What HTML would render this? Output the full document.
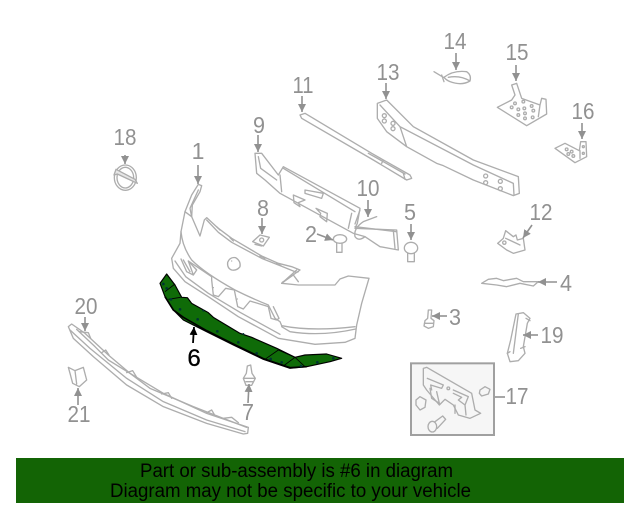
<!DOCTYPE html>
<html><head><meta charset="utf-8">
<style>
html,body{margin:0;padding:0;background:#fff;width:640px;height:512px;overflow:hidden}
svg{display:block}
text{font-family:"Liberation Sans",sans-serif}
.l{font-size:23px;fill:#919191;text-anchor:middle}
.p{fill:none;stroke:#adadad;stroke-width:4;stroke-linejoin:round;stroke-linecap:round}
.f{fill:#fff;stroke:#adadad;stroke-width:4;stroke-linejoin:round}
.a{stroke:#919191;stroke-width:1.6;fill:none;marker-end:url(#m)}
</style></head><body>
<svg width="640" height="512" viewBox="0 0 640 512" xmlns="http://www.w3.org/2000/svg">
<defs>
<marker id="m" markerUnits="userSpaceOnUse" markerWidth="9" markerHeight="8" refX="8" refY="4" orient="auto"><path d="M0 0L8 4L0 8z" fill="#919191"/></marker>
<marker id="k" markerUnits="userSpaceOnUse" markerWidth="9" markerHeight="8" refX="8" refY="4" orient="auto"><path d="M0 0L8 4L0 8z" fill="#000"/></marker>
</defs>

<!-- bumper -->
<g transform="translate(165,175) scale(.33333)">
<path class="p" d="M100 28L110 32L105 50L82 90L80 125L105 183L118 135L125 128L160 160L200 190L290 243L340 265L380 275L405 285L350 325L400 330L510 330L525 312L550 303L612 310L590 385L575 450L570 490L540 502L450 508L340 490L220 425L130 365L60 320L25 280L20 250L45 205L48 170L60 110L80 60z"/>
<path class="p" d="M48 170Q52 215 80 255Q120 295 210 345Q260 370 310 390L330 430L345 440L350 452Q440 470 570 455"/>
<path class="p" d="M350 455L375 470Q470 485 572 462M30 258L62 305L130 355L225 412L345 478M60 110L80 125M100 45L75 100L80 125"/>
<path class="p" d="M48 252L65 290L85 300L70 258L95 285L85 300M55 255L75 290"/>
<path class="p" d="M70 258L140 305L140 315L145 360L160 365L182 340L208 345L218 395L235 402L255 378L310 395L318 430L335 435L342 430L325 395"/>
<path class="p" d="M125 135L160 172L200 202L290 250L345 272L395 292L400 290M352 322L385 300L400 320M350 325L395 285M155 155L165 165M195 188L205 198M285 243L300 250M335 265L348 272"/>
<path class="p" d="M188 262Q195 245 212 248Q228 258 225 275Q215 288 200 285Q186 280 188 262z"/>
<circle cx="200" cy="258" r="2" fill="#aaa"/><circle cx="145" cy="338" r="2" fill="#aaa"/><circle cx="217" cy="372" r="2" fill="#aaa"/>
<!-- 8 -->
<path class="f" d="M263 200L285 180L313 187L295 213z"/>
<circle class="p" cx="290" cy="195" r="6"/>
<path class="p" d="M270 208L290 213"/>
<!-- 2 -->
<ellipse class="f" cx="525" cy="192" rx="20" ry="13"/>
<path class="p" d="M515 204V232H531V204"/>
</g>

<!-- green part -->
<g transform="translate(150,260) scale(.33333)">
<path fill="#0f6b08" stroke="#000" stroke-width="3.5" stroke-linejoin="round" d="M30 70L50 42L75 75L95 112L112 113L125 130L175 158L190 172L270 220L305 232L380 265L435 292L465 285L530 282L575 295L540 305L470 320L420 325L340 298L250 255L170 215L100 180L70 150L45 110z"/>
<path fill="none" stroke="#000" stroke-width="5" stroke-linejoin="round" d="M45 110L70 150L100 172L170 212L250 252L340 296L420 323L470 320"/>
<path fill="none" stroke="#000" stroke-width="2.5" d="M45 95L75 72M55 118L92 112M345 298L385 270L435 292L400 318M435 292L465 320"/>
<g fill="#033"><circle cx="40" cy="72" r="4"/><circle cx="50" cy="85" r="4"/><circle cx="63" cy="118" r="4"/><circle cx="90" cy="148" r="4"/><circle cx="143" cy="178" r="4"/><circle cx="202" cy="214" r="4"/><circle cx="265" cy="247" r="4"/><circle cx="320" cy="280" r="4"/><circle cx="362" cy="297" r="4"/><circle cx="395" cy="307" r="4"/><circle cx="453" cy="318" r="4"/><circle cx="502" cy="307" r="4"/><circle cx="550" cy="295" r="4"/><circle cx="160" cy="152" r="3"/><circle cx="280" cy="222" r="3"/></g>
</g>

<!-- strip 20, 21, 7 -->
<g transform="translate(60,310) scale(.33333)">
<path class="p" d="M25 50L35 42L75 70L145 135L210 190L310 250L440 310L565 352L563 370L550 372L440 340L310 290L200 225L100 140L40 85z"/>
<path class="p" d="M30 60L90 115L200 205L310 275L440 330L555 365M50 58L105 110L145 150L210 190L270 235L400 290L490 325L560 352M60 65L85 68L92 85M125 128L137 120L147 135M200 188L218 182L232 205M305 252L325 248L335 265M440 308L455 300L465 317M490 325L515 322L535 338"/>
<path class="p" d="M25 172L45 182L70 172L80 210L58 230L38 220L30 190zM45 182L50 222"/>
<path class="p" d="M562 168L572 165L576 190L586 205L575 226H558L550 205L559 190zM552 205H584M558 215H578"/>
</g>

<!-- emblem 18 -->
<g transform="translate(60,130) scale(.33333)">
<ellipse class="p" cx="196" cy="143" rx="33" ry="38"/>
<ellipse class="p" cx="196" cy="143" rx="25" ry="31"/>
<path class="f" d="M168 118L225 148L232 160L172 132L162 135z" style="fill:#e6e6e6"/>
</g>

<!-- upper parts -->
<g transform="translate(240,20) scale(.33333)">
<path class="p" d="M45 400L65 400L115 465L130 440L360 565L352 610L345 625L470 630L475 690L420 680L375 650L340 640L120 520L75 480L50 460z"/>
<path class="p" d="M55 410L62 445L110 480M120 465L125 515M130 445L345 575M335 580L325 625M360 570L345 612"/>
<path class="p" d="M195 510L250 520L245 535L195 520zM160 525L195 540L175 548L180 560L162 548zM228 565L262 580L260 605L240 590L242 580z"/>
<path class="p" d="M410 590L370 605Q340 625 345 650Q355 665 375 650M345 620L470 635M460 632L465 685"/>
<path class="p" d="M180 285L195 280L395 400L510 465L515 475L500 480L400 420L185 295zM385 400L430 425L495 462M430 420L425 430M490 460L495 478"/>
<path class="p" d="M412 250L440 240L520 320L700 420L835 470L838 520L820 527L700 480L610 437L590 430L500 380L440 335L412 295zM420 255L480 320L700 435L820 490L822 525M480 320L500 380"/>
<circle class="p" cx="433" cy="287" r="6"/><circle class="p" cx="433" cy="303" r="6"/><circle class="p" cx="459" cy="310" r="6"/><circle class="p" cx="459" cy="326" r="6"/><circle class="p" cx="737" cy="468" r="6"/><circle class="p" cx="737" cy="488" r="6"/><circle class="p" cx="781" cy="484" r="6"/><circle class="p" cx="781" cy="506" r="6"/>
<!-- 14 -->
<path class="p" d="M582 155L610 172M605 165L612 185M612 172Q640 150 680 155Q695 165 690 183Q665 198 630 185Q618 180 612 172M625 172Q660 165 690 183"/>
<!-- 15 -->
<path class="p" d="M772 262L815 240L825 225L815 195L830 190L845 235L900 255L905 235L918 238L920 282L860 317zM900 255L895 290"/>
<g class="p"><circle cx="825" cy="250" r="4"/><circle cx="850" cy="245" r="4"/><circle cx="835" cy="268" r="4"/><circle cx="853" cy="265" r="4"/><circle cx="875" cy="258" r="4"/><circle cx="815" cy="262" r="4"/><circle cx="855" cy="280" r="4"/><circle cx="880" cy="272" r="4"/><circle cx="835" cy="285" r="4"/><circle cx="855" cy="295" r="4"/><circle cx="878" cy="292" r="4"/></g>
<!-- 16 -->
<path class="p" d="M945 385L975 370L1018 392L1022 365H1038L1040 410L1005 428zM1020 392L1020 415"/>
<g class="p"><circle cx="980" cy="388" r="4"/><circle cx="995" cy="395" r="4"/><circle cx="985" cy="402" r="4"/><circle cx="1000" cy="408" r="4"/><circle cx="1030" cy="380" r="3"/><circle cx="1030" cy="400" r="3"/></g>
<!-- 5 -->
<ellipse class="f" cx="513" cy="684" rx="20" ry="17"/>
<path class="p" d="M503 699V725H523V699"/>
<!-- 12 -->
<path class="p" d="M773 670L790 655L797 632L820 650L828 645L832 660L850 655L855 690L820 700L800 690zM797 655L840 675"/>
<circle class="p" cx="793" cy="668" r="5"/>
<!-- 4 -->
<path class="p" d="M725 790L745 778L770 775L790 782L830 775L850 785L895 785L880 798L840 790L800 800L770 795z"/>
</g>

<!-- lower right parts -->
<g transform="translate(390,290) scale(.33333)">
<rect x="63" y="220" width="249" height="215" fill="#f6f6f6" stroke="#a0a0a0" stroke-width="6"/>
<path class="p" d="M115 60L125 60L123 85L132 92L130 110L115 115L102 108L105 92L113 85zM103 100H130"/>
<path class="p" d="M378 72L400 68L420 85L412 100L400 170L405 190L385 212L360 215L352 190L362 150z"/>
<path class="p" d="M385 72L370 190M408 85L420 92M352 190L360 185M392 175L405 170"/>
<path class="p" d="M100 235L110 232L245 310L255 360L272 370L240 385L205 375L190 345L165 328L148 345L110 300L100 285z"/>
<path class="p" d="M112 265L160 285L155 295L122 285L125 300M190 300L235 320L225 345L205 330L215 322L190 310M120 295L125 325L148 340L140 305M195 345V370M225 345L228 375"/>
<circle class="p" cx="175" cy="295" r="4"/>
<path class="p" d="M270 300L285 290L300 298L295 312L275 318L268 310z"/>
<path class="p" d="M78 330L90 320L108 330L105 352L90 360L78 345z"/>
<ellipse class="p" cx="127" cy="410" rx="13" ry="16"/>
<path class="p" d="M135 395L158 378L167 388L142 415"/>
</g>

<!-- arrows -->
<path class="a" d="M198 165L198 184"/>
<path class="a" d="M125 155L125 164"/>
<path class="a" d="M262 218L262 234"/>
<path class="a" d="M317 234L333 240"/>
<path class="a" d="M248 403L249 384"/>
<path class="a" d="M85 317L85 331"/>
<path class="a" d="M78 405L78 388"/>
<path class="a" d="M258 135L258 152"/>
<path class="a" d="M368 200L368 217"/>
<path class="a" d="M302 96L302 112"/>
<path class="a" d="M386 83L386 99"/>
<path class="a" d="M456 53L456 70"/>
<path class="a" d="M516 65L516 81"/>
<path class="a" d="M582 123L582 139"/>
<path class="a" d="M532 225L523 238"/>
<path class="a" d="M411 224L411 240"/>
<path class="a" d="M557 282L538 282"/>
<path class="a" d="M447 316L432 316"/>
<path class="a" d="M538 335L523 335"/>
<path d="M505 397H495" stroke="#919191" stroke-width="1.6"/>
<path d="M193 343L194 327" stroke="#000" stroke-width="1.8" marker-end="url(#k)"/>

<!-- labels -->
<text class="l" x="198" y="159">1</text>
<text class="l" x="311" y="242" textLength="12" lengthAdjust="spacingAndGlyphs">2</text>
<text class="l" x="455" y="325" textLength="12" lengthAdjust="spacingAndGlyphs">3</text>
<text class="l" x="566" y="291" textLength="12" lengthAdjust="spacingAndGlyphs">4</text>
<text class="l" x="410" y="220" textLength="12" lengthAdjust="spacingAndGlyphs">5</text>
<text x="194" y="366" font-size="24" text-anchor="middle" fill="#000" stroke="#000" stroke-width=".3">6</text>
<text class="l" x="248" y="420" textLength="12" lengthAdjust="spacingAndGlyphs">7</text>
<text class="l" x="263" y="216" textLength="12" lengthAdjust="spacingAndGlyphs">8</text>
<text class="l" x="259" y="133" textLength="12" lengthAdjust="spacingAndGlyphs">9</text>
<text class="l" x="368" y="196" textLength="23" lengthAdjust="spacingAndGlyphs">10</text>
<text class="l" x="303" y="93" textLength="21" lengthAdjust="spacingAndGlyphs">11</text>
<text class="l" x="541" y="220" textLength="23" lengthAdjust="spacingAndGlyphs">12</text>
<text class="l" x="388" y="80" textLength="23" lengthAdjust="spacingAndGlyphs">13</text>
<text class="l" x="455" y="49" textLength="23" lengthAdjust="spacingAndGlyphs">14</text>
<text class="l" x="517" y="60" textLength="23" lengthAdjust="spacingAndGlyphs">15</text>
<text class="l" x="583" y="119" textLength="23" lengthAdjust="spacingAndGlyphs">16</text>
<text class="l" x="517" y="404" textLength="23" lengthAdjust="spacingAndGlyphs">17</text>
<text class="l" x="125" y="145" textLength="23" lengthAdjust="spacingAndGlyphs">18</text>
<text class="l" x="552" y="343" textLength="23" lengthAdjust="spacingAndGlyphs">19</text>
<text class="l" x="86" y="314" textLength="23" lengthAdjust="spacingAndGlyphs">20</text>
<text class="l" x="79" y="422" textLength="23" lengthAdjust="spacingAndGlyphs">21</text>

<!-- banner -->
<rect x="16" y="458" width="608" height="45" fill="#136405"/>
<text x="140" y="477" font-size="19" fill="#000" textLength="313" lengthAdjust="spacingAndGlyphs">Part or sub-assembly is #6 in diagram</text>
<text x="110" y="497" font-size="19" fill="#000" textLength="361" lengthAdjust="spacingAndGlyphs">Diagram may not be specific to your vehicle</text>
</svg>
</body></html>
